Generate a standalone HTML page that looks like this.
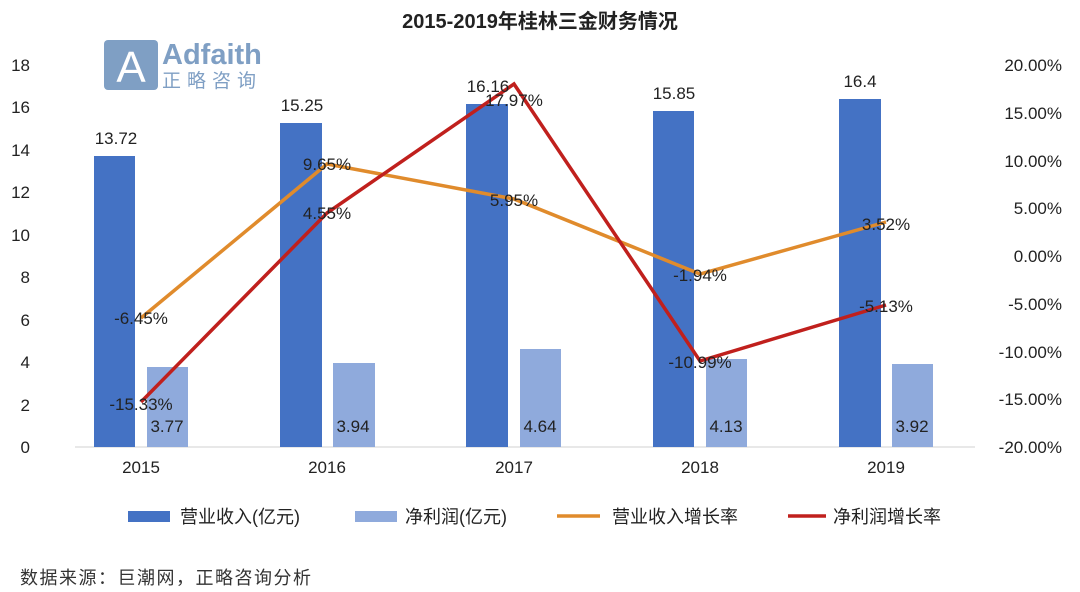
<!DOCTYPE html><html><head><meta charset="utf-8"><style>body{margin:0;background:#fff}svg{display:block}text{font-family:"Liberation Sans","Noto Sans CJK SC",sans-serif}</style></head><body>
<svg width="1080" height="592" viewBox="0 0 1080 592" xmlns="http://www.w3.org/2000/svg">
<rect width="1080" height="592" fill="#fff"/>
<text x="540" y="28" text-anchor="middle" font-size="20" font-weight="bold" fill="#222">2015-2019年桂林三金财务情况</text>
<rect x="104" y="40" width="54" height="50" rx="4" fill="#7f9fc4"/>
<text x="131" y="82" text-anchor="middle" font-size="44" fill="#fff" font-family="Liberation Serif">A</text>
<text x="162" y="64" font-size="29" fill="#7f9fc4" font-weight="bold">Adfaith</text>
<text x="162" y="87" font-size="19" fill="#7f9fc4" letter-spacing="6">正略咨询</text>
<line x1="75" y1="447" x2="975" y2="447" stroke="#d0d0d0"/>
<g font-size="17" fill="#222" text-anchor="end">
<text x="30" y="453">0</text><text x="30" y="411">2</text><text x="30" y="368">4</text><text x="30" y="326">6</text><text x="30" y="283">8</text><text x="30" y="241">10</text><text x="30" y="198">12</text><text x="30" y="156">14</text><text x="30" y="113">16</text><text x="30" y="71">18</text>
</g>
<g font-size="17" fill="#222" text-anchor="end">
<text x="1062" y="71">20.00%</text><text x="1062" y="119">15.00%</text><text x="1062" y="167">10.00%</text><text x="1062" y="214">5.00%</text><text x="1062" y="262">0.00%</text><text x="1062" y="310">-5.00%</text><text x="1062" y="358">-10.00%</text><text x="1062" y="405">-15.00%</text><text x="1062" y="453">-20.00%</text>
</g>
<g fill="#4472c4">
<rect x="94" y="156" width="41" height="291"/><rect x="280" y="123" width="42" height="324"/><rect x="466" y="104" width="42" height="343"/><rect x="653" y="111" width="41" height="336"/><rect x="839" y="99" width="42" height="348"/>
</g>
<g fill="#8faadc">
<rect x="147" y="367" width="41" height="80"/><rect x="333" y="363" width="42" height="84"/><rect x="520" y="349" width="41" height="98"/><rect x="706" y="359" width="41" height="88"/><rect x="892" y="364" width="41" height="83"/>
</g>
<g font-size="17" fill="#222" text-anchor="middle">
<text x="141" y="473">2015</text><text x="327" y="473">2016</text><text x="514" y="473">2017</text><text x="700" y="473">2018</text><text x="886" y="473">2019</text>
</g>
<polyline points="141,318 327,164 514,199 700,274 886,222" fill="none" stroke="#e08b2c" stroke-width="3.5"/>
<polyline points="141,402 327,213 514,84 700,361 886,305" fill="none" stroke="#c0201d" stroke-width="3.5"/>
<g font-size="17" fill="#222" text-anchor="middle">
<text x="116" y="144">13.72</text><text x="302" y="111">15.25</text><text x="488" y="92">16.16</text><text x="674" y="99">15.85</text><text x="860" y="87">16.4</text>
<text x="167" y="432">3.77</text><text x="353" y="432">3.94</text><text x="540" y="432">4.64</text><text x="726" y="432">4.13</text><text x="912" y="432">3.92</text>
<text x="141" y="324">-6.45%</text><text x="327" y="170">9.65%</text><text x="514" y="206">5.95%</text><text x="700" y="281">-1.94%</text><text x="886" y="230">3.52%</text>
<text x="141" y="410">-15.33%</text><text x="327" y="219">4.55%</text><text x="514" y="106">17.97%</text><text x="700" y="368">-10.99%</text><text x="886" y="312">-5.13%</text>
</g>
<rect x="128" y="511" width="42" height="11" fill="#4472c4"/>
<text x="180" y="523" font-size="18" fill="#222">营业收入(亿元)</text>
<rect x="355" y="511" width="42" height="11" fill="#8faadc"/>
<text x="405" y="523" font-size="18" fill="#222">净利润(亿元)</text>
<line x1="557" y1="516" x2="600" y2="516" stroke="#e08b2c" stroke-width="3.5"/>
<text x="612" y="523" font-size="18" fill="#222">营业收入增长率</text>
<line x1="788" y1="516" x2="826" y2="516" stroke="#c0201d" stroke-width="3.5"/>
<text x="833" y="523" font-size="18" fill="#222">净利润增长率</text>
<text x="20" y="584" font-size="18" fill="#333" letter-spacing="1.5">数据来源：巨潮网，正略咨询分析</text>
</svg></body></html>
